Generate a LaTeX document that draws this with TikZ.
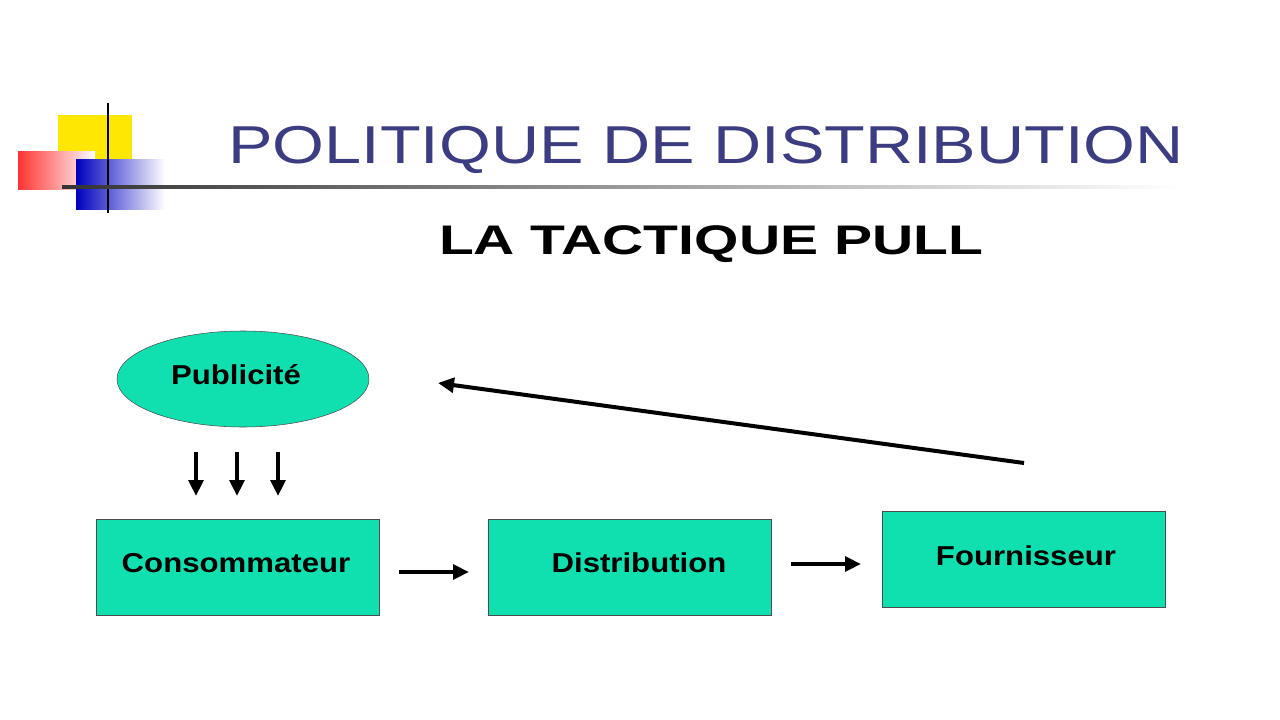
\documentclass[tikz,border=0pt]{standalone}
\usepackage{fontspec}
\setmainfont{Liberation Sans}
\usetikzlibrary{shapes.geometric,arrows.meta}
\definecolor{teal1}{HTML}{10E0B0}
\definecolor{titleblue}{HTML}{3C3C82}
\begin{document}
\begin{tikzpicture}[x=0.75pt,y=-0.75pt,
  box/.style={draw=black!70,fill=teal1,minimum width=212pt,minimum height=72pt},
  lbl/.style={font=\bfseries\fontsize{20.5}{24}\selectfont,xscale=1.14},
  arr/.style={-{Triangle[length=12pt,width=11pt]},line width=3pt}]
\useasboundingbox[fill=white] (0,0) rectangle (1280,720);
% logo
\fill[yellow!90!orange] (58,115) rectangle (132,160);
\shade[left color=red!80,right color=white] (18,152) rectangle (95,190);
\shade[left color=blue!75!black,right color=white] (76,160) rectangle (165,210);
\draw[line width=1.2pt] (108,103) -- (108,213);
\shade[left color=black!80,right color=white] (62,186) rectangle (1180,188.5);
% titles
\node[text=titleblue,font=\fontsize{40}{46}\selectfont,xscale=1.25] (title) at (706,150) {POLITIQUE DE DISTRIBUTION};
\node[font=\bfseries\fontsize{31}{36}\selectfont,xscale=1.38] (sub) at (711,244) {LA TACTIQUE PULL};
% nodes
\node[ellipse,draw=black!70,fill=teal1,minimum width=189pt,minimum height=72pt] (pub) at (243,379) {};
\node[lbl] at (236,375) {Publicité};
\node[box] (cons) at (237.5,567) {};
\node[lbl] at (236,563) {Consommateur};
\node[box] (dist) at (630,567) {};
\node[lbl] at (639,563) {Distribution};
\node[box] (four) at (1024,559) {};
\node[lbl] at (1026,556) {Fournisseur};
% arrows
\foreach \x/\n in {196/a,237/b,278/c}{
  \coordinate (s\n) at (\x,452); \coordinate (e\n) at (\x,496);
  \draw[arr] (s\n) -- (e\n);}
\coordinate (c1) at (399,572); \coordinate (c2) at (469,572);
\draw[arr] (c1) -- (c2);
\coordinate (d1) at (791,564); \coordinate (d2) at (861,564);
\draw[arr] (d1) -- (d2);
\coordinate (f1) at (1024,463); \coordinate (f2) at (438,383);
\draw[arr] (f1) -- (f2);
\end{tikzpicture}
\end{document}
